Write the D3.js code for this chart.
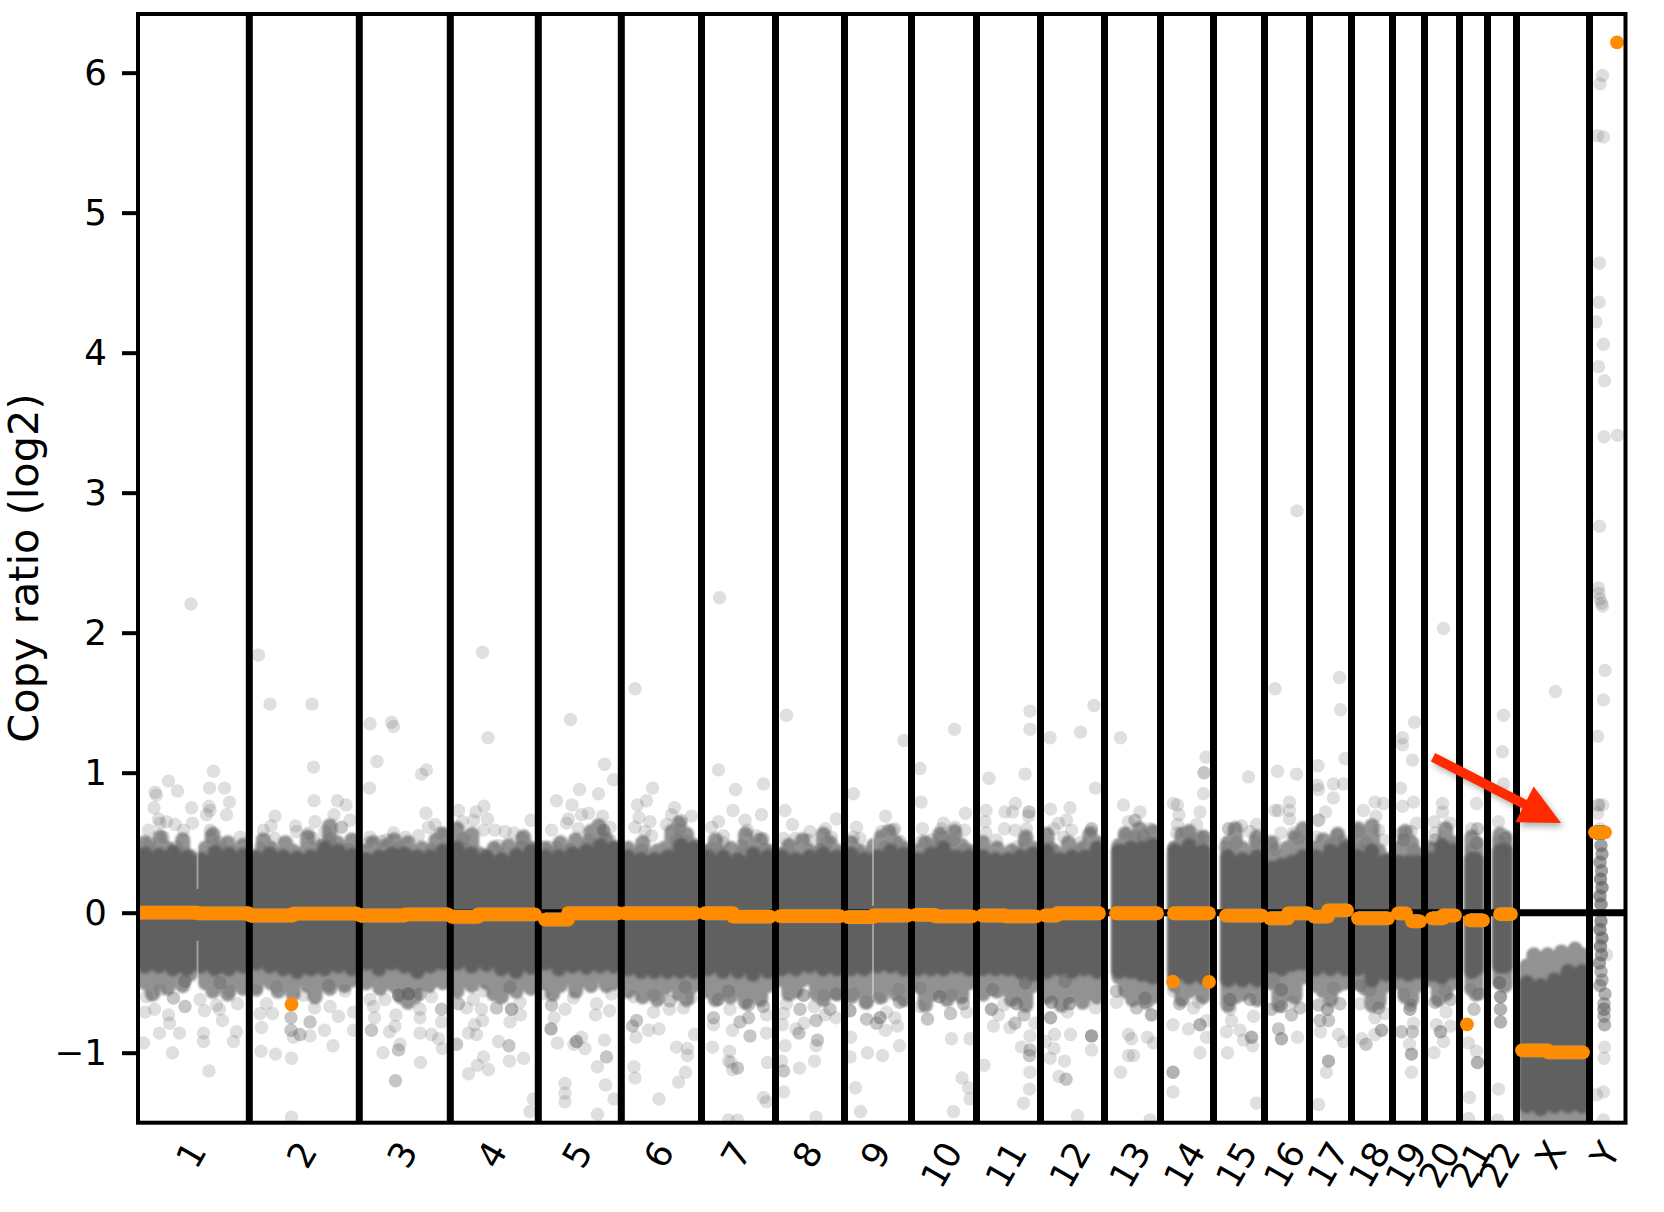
<!DOCTYPE html>
<html><head><meta charset="utf-8">
<script src="https://cdn.jsdelivr.net/npm/d3@7"></script>
<style>html,body{margin:0;background:#fff}svg{display:block}text{font-family:"DejaVu Sans";fill:#000}</style>
</head><body><div id="chart"></div>
<script>
const chromNames=["1","2","3","4","5","6","7","8","9","10","11","12","13","14","15","16","17","18","19","20","21","22","X","Y"];
const chromSizes=[222.6,220,182,176,166,160.4,148,138,134,130,128,128,112,106,102,90,84,82,64,70,56,58,146,72];
const yTicks=[-1,0,1,2,3,4,5,6];
// copy-number segments: start, end, log2
const segments=[[0,119,0],[119,222,-.005],[224,310,-.02],[310,438,-.007],[444,534,-.02],[534,620,-.012],[628,680,-.03],[680,794,-.012],[814,860,-.05],[860,960,-.004],[974,1114,-.004],[1134,1190,-.004],[1190,1264,-.028],[1284,1404,-.024],[1420,1470,-.032],[1470,1540,-.02],[1556,1594,-.016],[1594,1668,-.026],[1688,1734,-.02],[1734,1796,-.026],[1814,1838,-.02],[1838,1922,-.004],[1956,2038,-.004],[2072,2142,-.004],[2176,2248,-.021],[2264,2300,-.04],[2300,2340,-.005],[2352,2380,-.028],[2380,2418,.017],[2440,2500,-.04],[2520,2536,-.005],[2548,2564,-.062],[2588,2610,-.04],[2610,2634,-.02],[2664,2690,-.055],[2724,2746,-.01],[2768,2820,-.983],[2820,2890,-.997],[2914,2934,.574]];
const singleBinSegments=[[307,-.654],[2070,-.493],[2142,-.495],[2658,-.797],[2958,6.217]];
// dense cloud per chromosome: data span and envelope values
const cloudSpans=[[14,210],[236,428],[456,610],[638,786],[814,952],[980,1112],[1140,1260],[1288,1398],[1426,1532],[1560,1662],[1690,1790],[1818,1918],[1962,2030],[2074,2130],[2180,2238],[2266,2330],[2356,2414],[2440,2496],[2522,2560],[2586,2630],[2668,2676],[2724,2734],[2778,2888]];
const fringeTop=[[.50,.44,.54,.46,.42,.52,.40,.36,.46,.56,.42,.50,.44,.48],[.40,.52,.46,.38,.50,.44,.42,.54,.42,.48,.62,.50,.44,.52],[.44,.50,.42,.48,.52,.44,.50,.40,.46,.44,.52,.56],[.60,.50,.56,.42,.40,.46,.40,.48,.44,.54,.46],[.46,.40,.50,.44,.52,.46,.58,.62,.52,.46],[.46,.42,.50,.40,.44,.46,.58,.64,.56,.48],[.44,.52,.40,.46,.42,.56,.46,.52,.44],[.42,.48,.44,.52,.44,.40,.56,.50,.44],[.50,.44,.40,.48,.54,.58,.50,.46],[.44,.50,.42,.56,.50,.58,.48,.44],[.50,.42,.46,.38,.44,.42,.54,.46],[.56,.44,.40,.50,.42,.46,.56,.50],[.48,.56,.52,.60,.54,.58],[.46,.56,.58,.50,.54],[.50,.60,.46,.42,.54],[.50,.40,.46,.54,.60],[.46,.52,.50,.56,.48],[.60,.50,.62,.44,.38],[.46,.58,.50,.42],[.46,.44,.60,.50],[.54,.50],[.56,.54],[-.38,-.30,-.44,-.30,-.40,-.28,-.36,-.26,-.30]];
const fringeBottom=[[-.50,-.58,-.46,-.54,-.48,-.52,-.44,-.36,-.50,-.56,-.46,-.58,-.48,-.54],[-.54,-.44,-.50,-.56,-.48,-.58,-.46,-.52,-.60,-.50,-.54,-.44,-.52,-.48],[-.50,-.44,-.54,-.46,-.52,-.60,-.64,-.60,-.48,-.52,-.44,-.50],[-.56,-.46,-.52,-.44,-.50,-.58,-.60,-.52,-.56,-.50,-.54],[-.50,-.58,-.52,-.46,-.56,-.48,-.52,-.44,-.52,-.50],[-.56,-.50,-.60,-.52,-.62,-.54,-.48,-.58,-.62,-.52],[-.56,-.62,-.50,-.60,-.52,-.64,-.56,-.62,-.52],[-.48,-.58,-.56,-.48,-.46,-.58,-.62,-.54,-.58],[-.60,-.54,-.64,-.56,-.60,-.52,-.58,-.62],[-.52,-.66,-.58,-.46,-.62,-.52,-.60,-.50],[-.58,-.48,-.56,-.44,-.62,-.58,-.66,-.52],[-.60,-.52,-.66,-.60,-.58,-.64,-.56,-.60],[-.46,-.56,-.62,-.56,-.64,-.60],[-.52,-.62,-.56,-.52,-.60],[-.66,-.60,-.58,-.52,-.62],[-.50,-.66,-.58,-.60,-.46],[-.52,-.56,-.62,-.52,-.50],[-.50,-.54,-.66,-.64,-.52],[-.50,-.60,-.62,-.52],[-.48,-.62,-.58,-.50],[-.54,-.58],[-.50,-.52],[-1.46,-1.48,-1.44,-1.48,-1.46,-1.46,-1.48,-1.44,-1.46]];
const coreTop=[[.42,.41,.43,.40,.38,.43,.42,.41],[.39,.42,.40,.39,.40,.46,.44,.41],[.38,.40,.42,.42,.40,.40,.44],[.46,.42,.40,.38,.41,.44],[.40,.40,.42,.44,.48,.46],[.40,.38,.38,.40,.48,.46],[.40,.40,.38,.42,.40],[.40,.38,.40,.42,.40],[.42,.38,.40,.44,.42],[.38,.42,.46,.40,.40],[.40,.38,.38,.40,.42],[.44,.38,.40,.40,.46],[.44,.46,.46,.48],[.44,.48,.44],[.40,.38,.40],[.32,.34,.36,.40],[.40,.44,.46],[.40,.44,.37],[.36,.36,.36],[.38,.48,.44],[.38,.38],[.44,.44],[-.50,-.52,-.48,-.42,-.42]];
const coreBottom=[[-.38,-.38,-.40,-.40,-.38,-.40,-.40,-.38],[-.36,-.38,-.40,-.42,-.40,-.40,-.38,-.40],[-.36,-.40,-.36,-.38,-.42,-.38,-.36],[-.36,-.38,-.37,-.40,-.42,-.39],[-.36,-.40,-.38,-.39,-.38,-.38],[-.40,-.42,-.42,-.42,-.42,-.42],[-.40,-.42,-.42,-.44,-.42],[-.40,-.40,-.38,-.40,-.40],[-.40,-.40,-.38,-.38,-.40],[-.40,-.40,-.40,-.38,-.40],[-.40,-.40,-.40,-.42,-.44],[-.42,-.40,-.42,-.40,-.42],[-.42,-.42,-.44,-.46],[-.44,-.46,-.46],[-.48,-.48,-.48],[-.38,-.40,-.37,-.36],[-.40,-.40,-.40],[-.40,-.48,-.44],[-.42,-.44,-.42],[-.44,-.46,-.42],[-.42,-.40],[-.38,-.38],[-1.38,-1.40,-1.38,-1.38,-1.38]];
const cloudStreaks=[[119,.62,.17],[119,-.2,-.65],[1470,.55,.05],[1470,-.05,-.62]];
// individually readable bins: position, log2, optional overlap count
const binsHigh=[[106,2.205],[1163,2.25],[2318,2.87],[2929,5.98],[2924,5.92],[2919,5.55],[2931,5.54],[2923,4.64],[2922,4.36],[2916,4.22],[2931,4.06],[2921,3.9],[2933,3.8],[2932,3.4],[2959,3.41],[2923,2.76],[2921,2.32],[2922,2.28],[2924,2.24],[2927,2.21],[2929,2.19]];
const binsUpperA=[[151,1.01],[61,.94],[79,.87],[143,.89],[173,.89],[37,.84],[34,.86],[183,.79],[107,.75],[32,.75],[142,.76],[144,.73],[177,.70],[137,.70],[41,.67],[109,.64],[57,.65],[44,.64],[74,.63],[91,.59],[21,.59],[144,.59],[51,.54],[144,.54],[24,.50],[204,.54],[77,.47],[164,.50],
[241,1.84],[264,1.49],[348,1.49],[351,1.04],[352,.80],[399,.80],[416,.77],[392,.70],[274,.69],[266,.62],[354,.65],[424,.66],[315,.62],[407,.61,2],[251,.59],[317,.58],[374,.58],[341,.57],[351,.53],[274,.53],[384,.53],[244,.46],[421,.45],[384,.50],
[464,1.35],[507,1.36],[511,1.33],[478,1.08],[567,.99],[577,1.02],[463,.89],[576,.71],[581,.61],[594,.63],[604,.57],[464,.54],[511,.57],[497,.52],[487,.51],[535,.54],[561,.55],[461,.50],[587,.45],[521,.46],
[689,1.86],[700,1.25],[641,.73],[692,.76],[676,.72],[699,.67],[649,.65],[671,.66],[786,.66],[714,.59],[691,.59],[734,.58],[752,.57],[651,.53],[767,.53],[721,.48],[767,.47],[654,.45],
[865,1.38],[933,1.06],[951,.95],[883,.88],[837,.80],[921,.85],[868,.77],[861,.67],[901,.71],[887,.70],[857,.64],[929,.69],[881,.60],[827,.59],[931,.59,3],[944,.61],[934,.57],[824,.47],[837,.47],[864,.45],[901,.52],[944,.52]];
const binsUpperB=[[994,1.60],[1029,.89],[1017,.80],[999,.77],[1073,.75],[1067,.70],[1107,.69],[1002,.68],[1024,.65],[1057,.63],[1087,.66],[994,.61],[1014,.58],[1027,.55],[1083,.59],[1077,.52],[1097,.51],[1007,.45],[1077,.45],
[1161,1.02],[1195,.88],[1251,.92],[1190,.73],[1247,.70],[1161,.65],[1214,.66],[1147,.61],[1219,.59],[1171,.55],[1237,.55],[1251,.53],[1171,.50],[1207,.48],[1254,.45],[1147,.46],
[1297,1.41],[1294,.73],[1309,.63],[1344,.58],[1397,.67],[1375,.60],[1387,.54],[1314,.53],[1341,.52],[1377,.50],[1291,.53],[1301,.45],[1364,.45],
[1532,1.23],[1431,.85],[1437,.61],[1495,.69],[1511,.59],[1487,.58],[1514,.60],[1431,.54],[1444,.53],[1524,.51],[1494,.47],[1451,.44],
[1633,1.31],[1564,1.03],[1566,.79],[1655,.71],[1569,.60],[1611,.64],[1607,.60],[1634,.61],[1653,.59],[1567,.51],[1607,.54],[1631,.52],[1587,.52],[1607,.47],[1654,.45],
[1784,1.44],[1784,1.31],[1702,.96],[1774,.99],[1755,.78],[1734,.72],[1749,.72],[1696,.73],[1782,.72,2],[1781,.69],[1694,.65],[1733,.60],[1754,.59],[1777,.60],[1696,.57],[1717,.52],[1771,.52],[1757,.47],
[1824,1.25],[1885,1.29],[1912,1.48],[1915,.89],[1825,.74],[1864,.75],[1857,.66],[1832,.60],[1841,.64],[1867,.59],[1907,.60,2],[1907,.58],[1884,.50],[1827,.46],[1851,.54]];
const binsUpperC=[[1965,1.25],[1971,.77],[1981,.65],[1971,.57],[1961,.44],[2004,.72],[1994,.66,2],[2024,.60],[2011,.55],[1994,.54],[2024,.50],
[2136,1.11],[2132,1.00,2],[2131,.85],[2124,.72],[2071,.78],[2079,.77],[2082,.70],[2079,.63],[2117,.63],[2077,.57],[2097,.57],[2071,.47],[2121,.54],[2134,.54],
[2221,.97],[2181,.60,2],[2207,.62],[2224,.58],[2237,.63],[2174,.47],[2197,.50],[2234,.51],
[2274,1.60],[2279,1.01],[2317,.99],[2303,.79],[2281,.73],[2303,.73],[2303,.67],[2274,.73],[2286,.57],[2311,.57],[2321,.53],[2274,.50],[2274,.45],
[2403,1.68],[2405,1.45],[2414,1.10],[2360,1.05],[2359,.91],[2361,.88],[2391,.92],[2411,.92],[2391,.82],[2375,.72],[2361,.66,2],[2397,.55],[2357,.54],[2384,.48],[2411,.51],
[2474,.79],[2491,.78],[2451,.73],[2476,.69],[2481,.59],[2441,.58],[2491,.52],[2457,.50],[2444,.45],
[2529,1.25],[2529,1.20],[2553,1.36],[2549,1.09],[2525,.89],[2551,.79],[2529,.76],[2557,.64],[2546,.58],[2527,.57],[2531,.52,2],[2551,.45],
[2611,2.03],[2609,.78],[2609,.72],[2592,.65],[2624,.64],[2594,.57],[2594,.52,2],[2627,.47],[2591,.45],
[2677,.78],[2667,.60],[2679,.60,2],[2677,.50,2],[2667,.45],
[2731,1.41],[2729,1.15],[2731,.92],[2721,.65],[2734,.53,2],[2721,.51],[2734,.46],
[2835,1.58],[2934,1.73],[2931,1.52],[2919,1.26],[2929,.77],[2921,.77,2],[2919,.71],[2924,.60]];
const binsChromY=[[2926,.48,4],[2928,.42,4],[2924,.36,4],[2927,.30,4],[2925,.24,5],[2928,.18,5],[2924,.12,5],[2926,.06,5],[2926,-.06,5],[2924,-.12,5],[2928,-.18,5],[2925,-.24,5],[2927,-.30,4],[2923,-.36,4],[2926,-.42,3],[2928,-.48,3]];
const binsLowerA=[[142,-1.13],[69,-1.0],[131,-.86],[131,-.92],[191,-.92],[43,-.86],[83,-.86],[11,-.93],[197,-.85],[63,-.79],[169,-.77],[163,-.69],[133,-.70],[33,-.69],[94,-.67,2],[199,-.65],[14,-.71],[61,-.73],[71,-.61,2],[17,-.60],[157,-.66],[124,-.62],[184,-.56],[44,-.55],[94,-.49,3],[164,-.50,2],
[307,-1.46],[307,-1.04],[275,-1.01],[246,-.99],[390,-.95],[373,-.84],[344,-.88],[324,-.87,2],[311,-.89],[306,-.84,2],[344,-.78,2],[306,-.75,2],[247,-.82],[353,-.68],[401,-.74],[384,-.67],[244,-.72],[269,-.72],[431,-.71],[257,-.65],[431,-.84],[331,-.59],[277,-.53],[237,-.56],[381,-.52,2],[414,-.56],
[515,-1.2,2],[565,-1.07],[490,-1.0],[524,-.94],[521,-.98,2],[467,-.84,2],[503,-.85],[514,-.81],[564,-.86],[587,-.87],[601,-.90],[609,-.97],[473,-.75],[516,-.73],[564,-.75],[607,-.78],[607,-.69,2],[471,-.67],[494,-.62],[564,-.69],[587,-.60],[541,-.58,5],[521,-.59,3],[464,-.62],[564,-.58,2],
[661,-1.15],[679,-1.09],[691,-1.03],[701,-1.12],[743,-1.06],[771,-1.04],[742,-.95,2],[721,-.92],[791,-1.33],[784,-1.42],[637,-.94,2],[677,-.87],[661,-.86],[673,-.80],[689,-.77],[744,-.78],[765,-.73],[687,-.69],[657,-.68],[717,-.68,2],[747,-.69,3],[641,-.65,2],[671,-.62],[691,-.56],[744,-.53,2],[764,-.64],
[854,-1.22],[854,-1.29],[854,-1.35],[919,-1.44],[935,-1.23],[952,-1.33],[919,-1.10],[937,-1.03,2],[933,-.91],[894,-.97],[877,-.92,3],[887,-.89],[872,-.94],[839,-.93],[826,-.83,3],[832,-.75],[915,-.73],[943,-.70],[827,-.66,2],[854,-.69],[917,-.65],[947,-.58],[871,-.61],[811,-.58]];
const binsLowerB=[[1042,-1.33],[1081,-1.21],[1095,-1.14],[994,-1.18],[992,-1.10],[1099,-1.02],[1099,-.97],[1077,-.96],[1113,-.87],[1042,-.83],[1021,-.84],[996,-.89],[997,-.77,2],[989,-.81,2],[1031,-.71],[1063,-.69],[1091,-.68],[1094,-.53,2],[1031,-.59],[991,-.60],[1064,-.63,2],[1107,-.61],
[1199,-1.48],[1181,-1.48],[1251,-1.32],[1257,-1.35],[1259,-1.07],[1199,-1.11,2],[1189,-1.12],[1181,-1.06],[1186,-1.07],[1183,-.99],[1149,-.96],[1257,-.86],[1224,-.88,2],[1189,-.84],[1204,-.78,2],[1151,-.80],[1151,-.75,2],[1221,-.75,2],[1251,-.67,2],[1221,-.66,2],[1257,-.73],[1161,-.62,2],[1181,-.56,2],[1184,-.69],
[1356,-1.46],[1291,-1.28],[1291,-1.13,2],[1323,-1.11],[1353,-1.06],[1287,-1.06],[1356,-.95],[1359,-.91,2],[1294,-.95],[1322,-.86,2],[1316,-.83],[1289,-.80],[1332,-.79],[1356,-.77,2],[1396,-.75],[1291,-.72],[1374,-.73],[1324,-.69,2],[1352,-.67],[1384,-.69,2],[1331,-.59,3],[1371,-.59],[1397,-.58,2],[1297,-.65],
[1445,-1.42],[1435,-1.25],[1523,-.95],[1489,-1.02],[1459,-1.0],[1424,-1.03],[1425,-.89],[1495,-.84],[1519,-.81],[1477,-.79,2],[1484,-.75,3],[1457,-.76,2],[1497,-.71],[1514,-.75],[1424,-.70,3],[1523,-.64,2],[1481,-.61],[1457,-.64],[1431,-.58],[1521,-.55],
[1631,-1.42],[1648,-1.18],[1661,-1.25],[1664,-1.33],[1627,-.90],[1664,-.90],[1579,-.76,2],[1625,-.72,2],[1564,-.67],[1657,-.71],[1603,-.60,3],[1651,-.65,2],[1627,-.59],[1564,-.54],
[1692,-1.09],[1771,-1.36],[1783,-1.26],[1784,-1.14],[1783,-1.02,2],[1784,-.98,2],[1767,-.96],[1784,-.88],[1711,-.81],[1744,-.82],[1754,-.79,2],[1721,-.73],[1707,-.69,3],[1772,-.73,2],[1757,-.65,3],[1731,-.66],[1794,-.79],[1709,-.55,2],[1775,-.50,3],
[1879,-1.45],[1842,-1.17],[1856,-1.19,2],[1853,-1.06],[1824,-1.04],[1832,-.97],[1814,-.92],[1833,-.87],[1865,-.87],[1907,-.88,4],[1907,-.98],[1825,-.75,3],[1859,-.71],[1827,-.64,3],[1863,-.65,3],[1915,-.68],[1854,-.49,2]];
const binsLowerC=[[1965,-1.14],[1957,-.64],[1957,-.56,2],[1981,-.87],[1981,-1.02],[1987,-.90],[2019,-.89],[2031,-.93],[1991,-1.02],[2027,-.73,3],[2014,-.61,3],[1997,-.68,2],[2024,-1.48],
[2070,-1.28],[2070,-1.14,3],[2124,-1.0],[2070,-.80],[2101,-.83],[2124,-.80,3],[2137,-.89],[2137,-.77],[2111,-.68],[2083,-.65,2],[2121,-.64],[2071,-.56],
[2179,-1.0],[2237,-1.36],[2177,-.85],[2204,-.84],[2211,-.91],[2227,-.89,3],[2229,-.95],[2187,-.77],[2231,-.74],[2184,-.62,3],[2224,-.62,2],[2184,-.69],
[2287,-.90,3],[2281,-.83,2],[2319,-.89],[2307,-.73,2],[2267,-.69,2],[2287,-.67,2],[2324,-.68,2],[2309,-.64],[2287,-.55,3],[2271,-.49],
[2361,-1.37],[2377,-1.14],[2381,-1.06,3],[2365,-.85],[2364,-.77,2],[2401,-.87],[2381,-.77,2],[2361,-.66,2],[2379,-.69,3],[2404,-.65,2],[2411,-.92],[2391,-.54],
[2448,-.90],[2456,-.94,2],[2487,-.84,3],[2474,-.87],[2474,-.75],[2481,-.68,2],[2494,-.72],[2444,-.65],[2444,-.52,2],[2464,-.55],
[2547,-1.14],[2547,-1.01,3],[2543,-.94],[2527,-.85,2],[2549,-.85,2],[2544,-.69,3],[2545,-.66,2],[2551,-.79],[2531,-.58],
[2592,-1.0],[2611,-.92],[2605,-.85,3],[2597,-.80],[2625,-.81],[2616,-.71],[2625,-.62,2],[2594,-.64,2],[2614,-.56],
[2663,-1.32],[2661,-1.47],[2661,-.93],[2677,-.99],[2679,-1.07,3],[2672,-.69,2],[2682,-.58,2],[2664,-.55],
[2721,-1.26],[2719,-1.48],[2725,-.78,3],[2725,-.69,3],[2725,-.60,4],[2723,-.50,4],
[2933,-.96],[2932,-1.04],[2931,-1.28],[2917,-1.30],[2931,-1.48],[2933,-.80,3],[2932,-.74,3],[2932,-.69,4],[2932,-.65,3],[2934,-.58,3],[2924,-.52,3],[2937,-.30]];
const arrowFrom=[2590,1.11], arrowTo=[2846,.64];

const W=1664,H=1212,L=138,R=1625.5,T=14,B=1122.7;
const boundaries=d3.cumsum(chromSizes);
const x=d3.scaleLinear().domain([0,boundaries[boundaries.length-1]]).range([L,R]);
const y=d3.scaleLinear().domain([-1.5,6.419]).range([B,T]);
const centers=chromSizes.map((s,i)=>boundaries[i]-s/2);
const svg=d3.select("#chart").append("svg").attr("width",W).attr("height",H);
const defs=svg.append("defs");
defs.append("clipPath").attr("id","plot").append("rect").attr("x",L).attr("y",T).attr("width",R-L).attr("height",B-T);
const plot=svg.append("g").attr("clip-path","url(#plot)");
const GREY="#606060",ORANGE="#ff8c00";

function columns(tops,bottoms){
  let d="";
  cloudSpans.forEach((sp,i)=>{
    const n=tops[i].length;
    tops[i].forEach((t,j)=>{
      const g=sp[0]+(sp[1]-sp[0])*j/(n-1);
      d+=`M${x(g)},${y(t)}L${x(g)},${y(bottoms[i][j])}`;
    });
  });
  return d;
}
plot.append("path").attr("d",columns(fringeTop,fringeBottom)).attr("fill","none").attr("stroke",GREY).attr("stroke-width",15).attr("stroke-linecap","round").attr("opacity",.68).style("filter","blur(1.2px)");
plot.append("path").attr("d",columns(coreTop,coreBottom)).attr("fill","none").attr("stroke",GREY).attr("stroke-width",15).attr("stroke-linecap","round").style("filter","blur(1.5px)");
plot.selectAll("line.streak").data(cloudStreaks).join("line").attr("class","streak")
  .attr("x1",d=>x(d[0])).attr("x2",d=>x(d[0])).attr("y1",d=>y(d[1])).attr("y2",d=>y(d[2]))
  .attr("stroke","#fff").attr("stroke-width",2).attr("opacity",.4);
const bins=[].concat(binsHigh,binsUpperA,binsUpperB,binsUpperC,binsChromY,binsLowerA,binsLowerB,binsLowerC);
plot.selectAll("circle.bin").data(bins).join("circle").attr("class","bin")
  .attr("cx",d=>x(d[0])).attr("cy",d=>y(d[1])).attr("r",6.7)
  .attr("fill",GREY).attr("fill-opacity",d=>1-Math.pow(.8,d[2]||1));
// chromosome separators and zero line
plot.selectAll("line.sep").data(boundaries.slice(0,-1)).join("line").attr("class","sep")
  .attr("x1",d=>x(d)).attr("x2",d=>x(d)).attr("y1",T).attr("y2",B).attr("stroke","#000").attr("stroke-width",7);
plot.append("line").attr("x1",L).attr("x2",R).attr("y1",y(0)).attr("y2",y(0)).attr("stroke","#000").attr("stroke-width",7);
// segments
plot.selectAll("line.trend").data(segments).join("line").attr("class","trend")
  .attr("x1",d=>x(d[0])).attr("x2",d=>x(d[1])).attr("y1",d=>y(d[2])).attr("y2",d=>y(d[2]))
  .attr("stroke","#3f78a8").attr("stroke-width",14.8);
plot.selectAll("line.seg").data(segments).join("line").attr("class","seg")
  .attr("x1",d=>x(d[0])).attr("x2",d=>x(d[1])).attr("y1",d=>y(d[2])).attr("y2",d=>y(d[2]))
  .attr("stroke",ORANGE).attr("stroke-width",13.8).attr("stroke-linecap","round");
plot.selectAll("circle.single").data(singleBinSegments).join("circle").attr("class","single")
  .attr("cx",d=>x(d[0])).attr("cy",d=>y(d[1])).attr("r",6.9).attr("fill",ORANGE);
// frame
svg.append("rect").attr("x",L).attr("y",T).attr("width",R-L).attr("height",B-T).attr("fill","none").attr("stroke","#000").attr("stroke-width",4);
// axes
const ya=svg.append("g").attr("transform",`translate(${L},0)`).call(d3.axisLeft(y).tickValues(yTicks).tickSize(16).tickPadding(15).tickFormat(d=>d<0?"\u2212"+Math.abs(d):d));
ya.select(".domain").remove();
ya.selectAll("line").attr("stroke","#000").attr("stroke-width",4);
ya.selectAll("text").attr("font-size",35.6).attr("font-family","DejaVu Sans").attr("fill","#000");
const xa=svg.append("g").attr("transform",`translate(0,${B})`).call(d3.axisBottom(x).tickValues(centers).tickSize(0).tickFormat((d,i)=>chromNames[i]));
xa.select(".domain").remove();
xa.selectAll("text").attr("font-size",35.6).attr("font-family","DejaVu Sans").attr("fill","#000")
  .attr("dy",null).attr("text-anchor","middle").attr("dominant-baseline","central")
  .attr("y",0).attr("transform",function(d,i){return `translate(-3,${chromNames[i].length>1?42:32}) rotate(-60)`;});
svg.append("text").attr("transform",`translate(23,568) rotate(-90)`).attr("text-anchor","middle").attr("dominant-baseline","central").attr("font-size",41.5).text("Copy ratio (log2)");
// annotation arrow
const ax0=x(arrowFrom[0]),ay0=y(arrowFrom[1]),ax1=x(arrowTo[0]),ay1=y(arrowTo[1]);
const ang=Math.atan2(ay1-ay0,ax1-ax0),ux=Math.cos(ang),uy=Math.sin(ang),nx=-uy,ny=ux;
const hl=41,hw=20,sw=4.8,bx=ax1-ux*hl,by=ay1-uy*hl;
svg.append("path").attr("fill","#ff2a00").style("filter","drop-shadow(3px 4px 3px rgba(0,0,0,.3))")
  .attr("d",d3.line()([[ax0+nx*sw,ay0+ny*sw],[bx+nx*sw,by+ny*sw],[bx+nx*hw,by+ny*hw],[ax1,ay1],[bx-nx*hw,by-ny*hw],[bx-nx*sw,by-ny*sw],[ax0-nx*sw,ay0-ny*sw]])+"Z");
</script></body></html>
